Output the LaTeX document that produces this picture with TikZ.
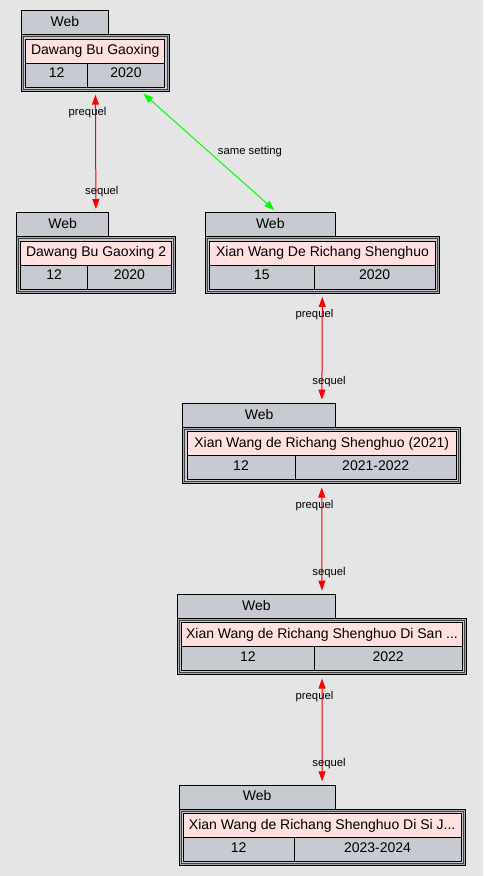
\documentclass[tikz,border=0pt]{standalone}
\usepackage{fontspec}
\setmainfont{Liberation Sans}
\usetikzlibrary{arrows.meta,fit}
\definecolor{bgc}{HTML}{E5E5E5}
\definecolor{cellc}{HTML}{C8CAD2}
\definecolor{pinkc}{HTML}{FFE0E0}
\definecolor{bandc}{HTML}{A8A8AC}
\definecolor{relred}{HTML}{FF0000}
\definecolor{relgreen}{HTML}{00FF00}
\tikzset{
  tabbox/.style={draw=black, fill=cellc, line width=1pt},
  outerbox/.style={draw=black, fill=bandc, line width=1pt},
  innerbox/.style={draw=black!75, fill=cellc, line width=0.8pt},
  titlecell/.style={draw=black, fill=pinkc, line width=1pt},
  numcell/.style={draw=black, fill=cellc, line width=1pt},
  txt/.style={font=\fontsize{14}{16}\selectfont, inner sep=0pt, anchor=base},
  lbl/.style={font=\fontsize{11.3}{13}\selectfont, inner sep=0pt, anchor=base},
  rel/.style={line width=1pt, shorten <=3.5pt, shorten >=3.5pt,
    {Triangle[length=10pt,width=7pt]}-{Triangle[length=10pt,width=7pt]}},
}
% name, left, tab right, box right, top, divider, title, num, year
\newcommand{\recnode}[9]{%
  \path ({#2},{#5}) coordinate (#1nw) ({#4},{#5+80.5}) coordinate (#1se);
  \draw[tabbox] ({#2},{#5}) rectangle ({#3},{#5+24});
  \draw[outerbox] ({#2},{#5+24}) rectangle ({#4},{#5+80.5});
  \draw[innerbox] ({#2+2},{#5+26}) rectangle ({#4-2},{#5+78.5});
  \draw[titlecell] ({#2+4.3},{#5+28.5}) rectangle ({#4-4.3},{#5+52.5});
  \draw[numcell] ({#2+4.3},{#5+52.5}) rectangle ({#4-4.3},{#5+76.5});
  \draw[black, line width=1pt] ({#6},{#5+52.5}) -- ({#6},{#5+76.5});
  \node[txt] (#1tab) at ({(#2+#3)/2},{#5+15.8}) {Web};
  \node[txt] (#1title) at ({(#2+#4)/2},{#5+44}) {#7};
  \node[txt] (#1num) at ({(#2+4.3+#6)/2},{#5+67}) {#8};
  \node[txt] (#1year) at ({(#6+#4-4.3)/2},{#5+67}) {#9};
  \node[fit=(#1nw)(#1se), inner sep=0pt] (#1) {};
}
\begin{document}
\begin{tikzpicture}[x=1pt, y=-1pt]
  \fill[bgc] (0,0) rectangle (483,876);
  \useasboundingbox (0,0) rectangle (483,876);

  \recnode{n1}{21.5}{108.5}{169}{10.5}{87.3}{Dawang Bu Gaoxing}{12}{2020}
  \recnode{n2}{16.5}{108.7}{175.7}{212.7}{87.3}{Dawang Bu Gaoxing 2}{12}{2020}
  \recnode{n3}{205.3}{335.3}{439.7}{212.7}{314}{Xian Wang De Richang Shenghuo}{15}{2020}
  \recnode{n4}{182.7}{335.7}{460.7}{403.3}{295}{Xian Wang de Richang Shenghuo (2021)}{12}{2021-2022}
  \recnode{n5}{177.3}{335.7}{466.7}{594.3}{314}{Xian Wang de Richang Shenghuo Di San ...}{12}{2022}
  \recnode{n6}{179}{335.3}{465.3}{785}{294}{Xian Wang de Richang Shenghuo Di Si J...}{12}{2023-2024}

  \draw[rel, relred] (n1) -- (n2);
  \draw[rel, relgreen] (n1) -- (n3);
  \draw[rel, relred] (n3) -- (n4);
  \draw[rel, relred] (n4) -- (n5);
  \draw[rel, relred] (n5) -- (n6);

  \node[lbl] (l1a) at (87.5,115) {prequel};
  \node[lbl] (l1b) at (101.8,194) {sequel};
  \node[lbl] (l2) at (250,154.3) {same setting};
  \node[lbl] (l3a) at (314.5,317.5) {prequel};
  \node[lbl] (l3b) at (329,384.6) {sequel};
  \node[lbl] (l4a) at (314.5,508) {prequel};
  \node[lbl] (l4b) at (329,575.6) {sequel};
  \node[lbl] (l5a) at (314.5,699) {prequel};
  \node[lbl] (l5b) at (329,766.3) {sequel};
\end{tikzpicture}
\end{document}
